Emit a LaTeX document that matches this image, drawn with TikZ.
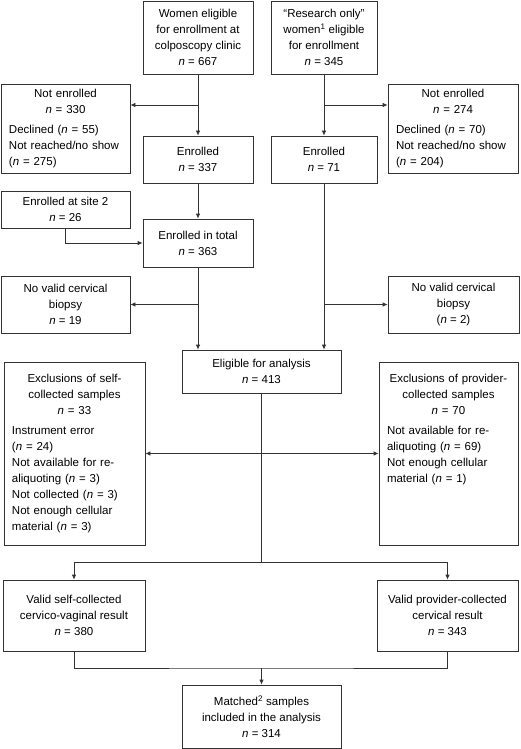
\documentclass[tikz,border=0pt]{standalone}
\usepackage{fontspec}
\setmainfont{Liberation Sans}
\usepackage{tikz}
\usetikzlibrary{positioning, arrows.meta, calc}

\begin{document}
\begin{tikzpicture}[
    x=1pt, y=-1pt,
    box/.style={rectangle, draw=black!80, line width=0.75pt, align=center, inner sep=0pt,
        font=\fontsize{11.5}{16}\selectfont},
    mixbox/.style={box, align=left, inner xsep=8pt},
    arrow/.style={-{Latex[length=5pt, width=4.5pt]}, line width=0.75pt, draw=black!80},
    dblarrow/.style={{Latex[length=5pt, width=4.5pt]}-{Latex[length=5pt, width=4.5pt]}, line width=0.75pt, draw=black!80},
    line/.style={line width=0.75pt, draw=black!80}
]
    \useasboundingbox (0,0) rectangle (520,749);

    % Nodes - enrollment
    \node[box, minimum width=110pt, minimum height=73pt] (women) at (198,37.5)
        {Women eligible\\for enrollment at\\colposcopy clinic\\\textit{n} = 667};
    \node[box, minimum width=106pt, minimum height=73pt] (research) at (324,37.5)
        {“Research only”\\women\textsuperscript{1} eligible\\for enrollment\\\textit{n} = 345};
    \node[mixbox, text width=113pt, minimum width=129pt, minimum height=89pt] (notenlL) at (65.5,128.5)
        {{\centering Not enrolled\\\textit{n} = 330\par}\vspace{4pt}Declined (\textit{n} = 55)\\Not reached/no show\\(\textit{n} = 275)};
    \node[mixbox, text width=114pt, minimum width=130pt, minimum height=89pt] (notenlR) at (453,128.5)
        {{\centering Not enrolled\\\textit{n} = 274\par}\vspace{4pt}Declined (\textit{n} = 70)\\Not reached/no show\\(\textit{n} = 204)};
    \node[box, minimum width=110pt, minimum height=47pt] (enrL) at (198,159.5) {Enrolled\\\textit{n} = 337};
    \node[box, minimum width=106pt, minimum height=47pt] (enrR) at (324,159.5) {Enrolled\\\textit{n} = 71};
    \node[box, minimum width=129pt, minimum height=37pt] (site2) at (65.5,209.5) {Enrolled at site 2\\\textit{n} = 26};
    \node[box, minimum width=110pt, minimum height=48pt] (total) at (198,243) {Enrolled in total\\\textit{n} = 363};
    \node[box, minimum width=129pt, minimum height=57pt] (novalidL) at (65.5,304.5)
        {No valid cervical\\biopsy\\\textit{n} = 19};
    \node[box, minimum width=131pt, minimum height=57pt] (novalidR) at (453.5,304.5)
        {No valid cervical\\biopsy\\(\textit{n} = 2)};

    % Nodes - analysis
    \node[box, minimum width=159pt, minimum height=43pt] (eligible) at (261.5,371.5) {Eligible for analysis\\\textit{n} = 413};
    \node[mixbox, text width=125pt, minimum width=141pt, minimum height=183pt] (exclL) at (74.5,453.5)
        {{\centering Exclusions of self-\\collected samples\\\textit{n} = 33\par}\vspace{4pt}Instrument error\\(\textit{n} = 24)\\Not available for re-\\aliquoting (\textit{n} = 3)\\Not collected (\textit{n} = 3)\\Not enough cellular\\material (\textit{n} = 3)};
    \node[mixbox, text width=123pt, minimum width=139pt, minimum height=183pt] (exclR) at (448.5,453.5)
        {{\centering Exclusions of provider-\\collected samples\\\textit{n} = 70\par}\vspace{4pt}Not available for re-\\aliquoting (\textit{n} = 69)\\Not enough cellular\\material (\textit{n} = 1)\rule[-50pt]{0pt}{50pt}};
    \node[box, minimum width=142pt, minimum height=71pt] (validL) at (74,615.5)
        {Valid self-collected\\cervico-vaginal result\\\textit{n} = 380};
    \node[box, minimum width=141pt, minimum height=71pt] (validR) at (447.5,615.5)
        {Valid provider-collected\\cervical result\\\textit{n} = 343};
    \node[box, minimum width=159pt, minimum height=63pt] (matched) at (261.5,716.5)
        {Matched\textsuperscript{2} samples\\included in the analysis\\\textit{n} = 314};

    % Arrows - enrollment
    \coordinate (splitL) at ($(women.south)!0.5!(enrL.north)$);
    \coordinate (splitR) at ($(research.south)!0.5!(enrR.north)$);
    \draw[arrow] (women) -- (enrL);
    \draw[arrow] (splitL) -- (splitL -| notenlL.east);
    \draw[arrow] (research) -- (enrR);
    \draw[arrow] (splitR) -- (splitR -| notenlR.west);
    \draw[arrow] (enrL) -- (total);
    \draw[arrow] (site2.south) |- (total.west);
    \draw[arrow] (total.south) -- (total.south |- eligible.north);
    \draw[arrow] (total.south |- novalidL.east) -- (novalidL.east);
    \draw[arrow] (enrR.south) -- (enrR.south |- eligible.north);
    \draw[arrow] (enrR.south |- novalidR.west) -- (novalidR.west);

    % Arrows - analysis
    \coordinate (split) at ($(eligible.south |- exclL.south)!0.5!(eligible.south |- validL.north)$);
    \coordinate (join) at ($(eligible.south |- validL.south)!0.5!(eligible.south |- matched.north)$);
    \draw[line] (eligible.south) -- (split);
    \draw[dblarrow] (exclL.east) -- (exclR.west);
    \draw[arrow] (split) -| (validL.north);
    \draw[arrow] (split) -| (validR.north);
    \draw[line] (validL.south) |- (join) -| (validR.south);
    \draw[arrow] (join) -- (matched.north);

\end{tikzpicture}
\end{document}
